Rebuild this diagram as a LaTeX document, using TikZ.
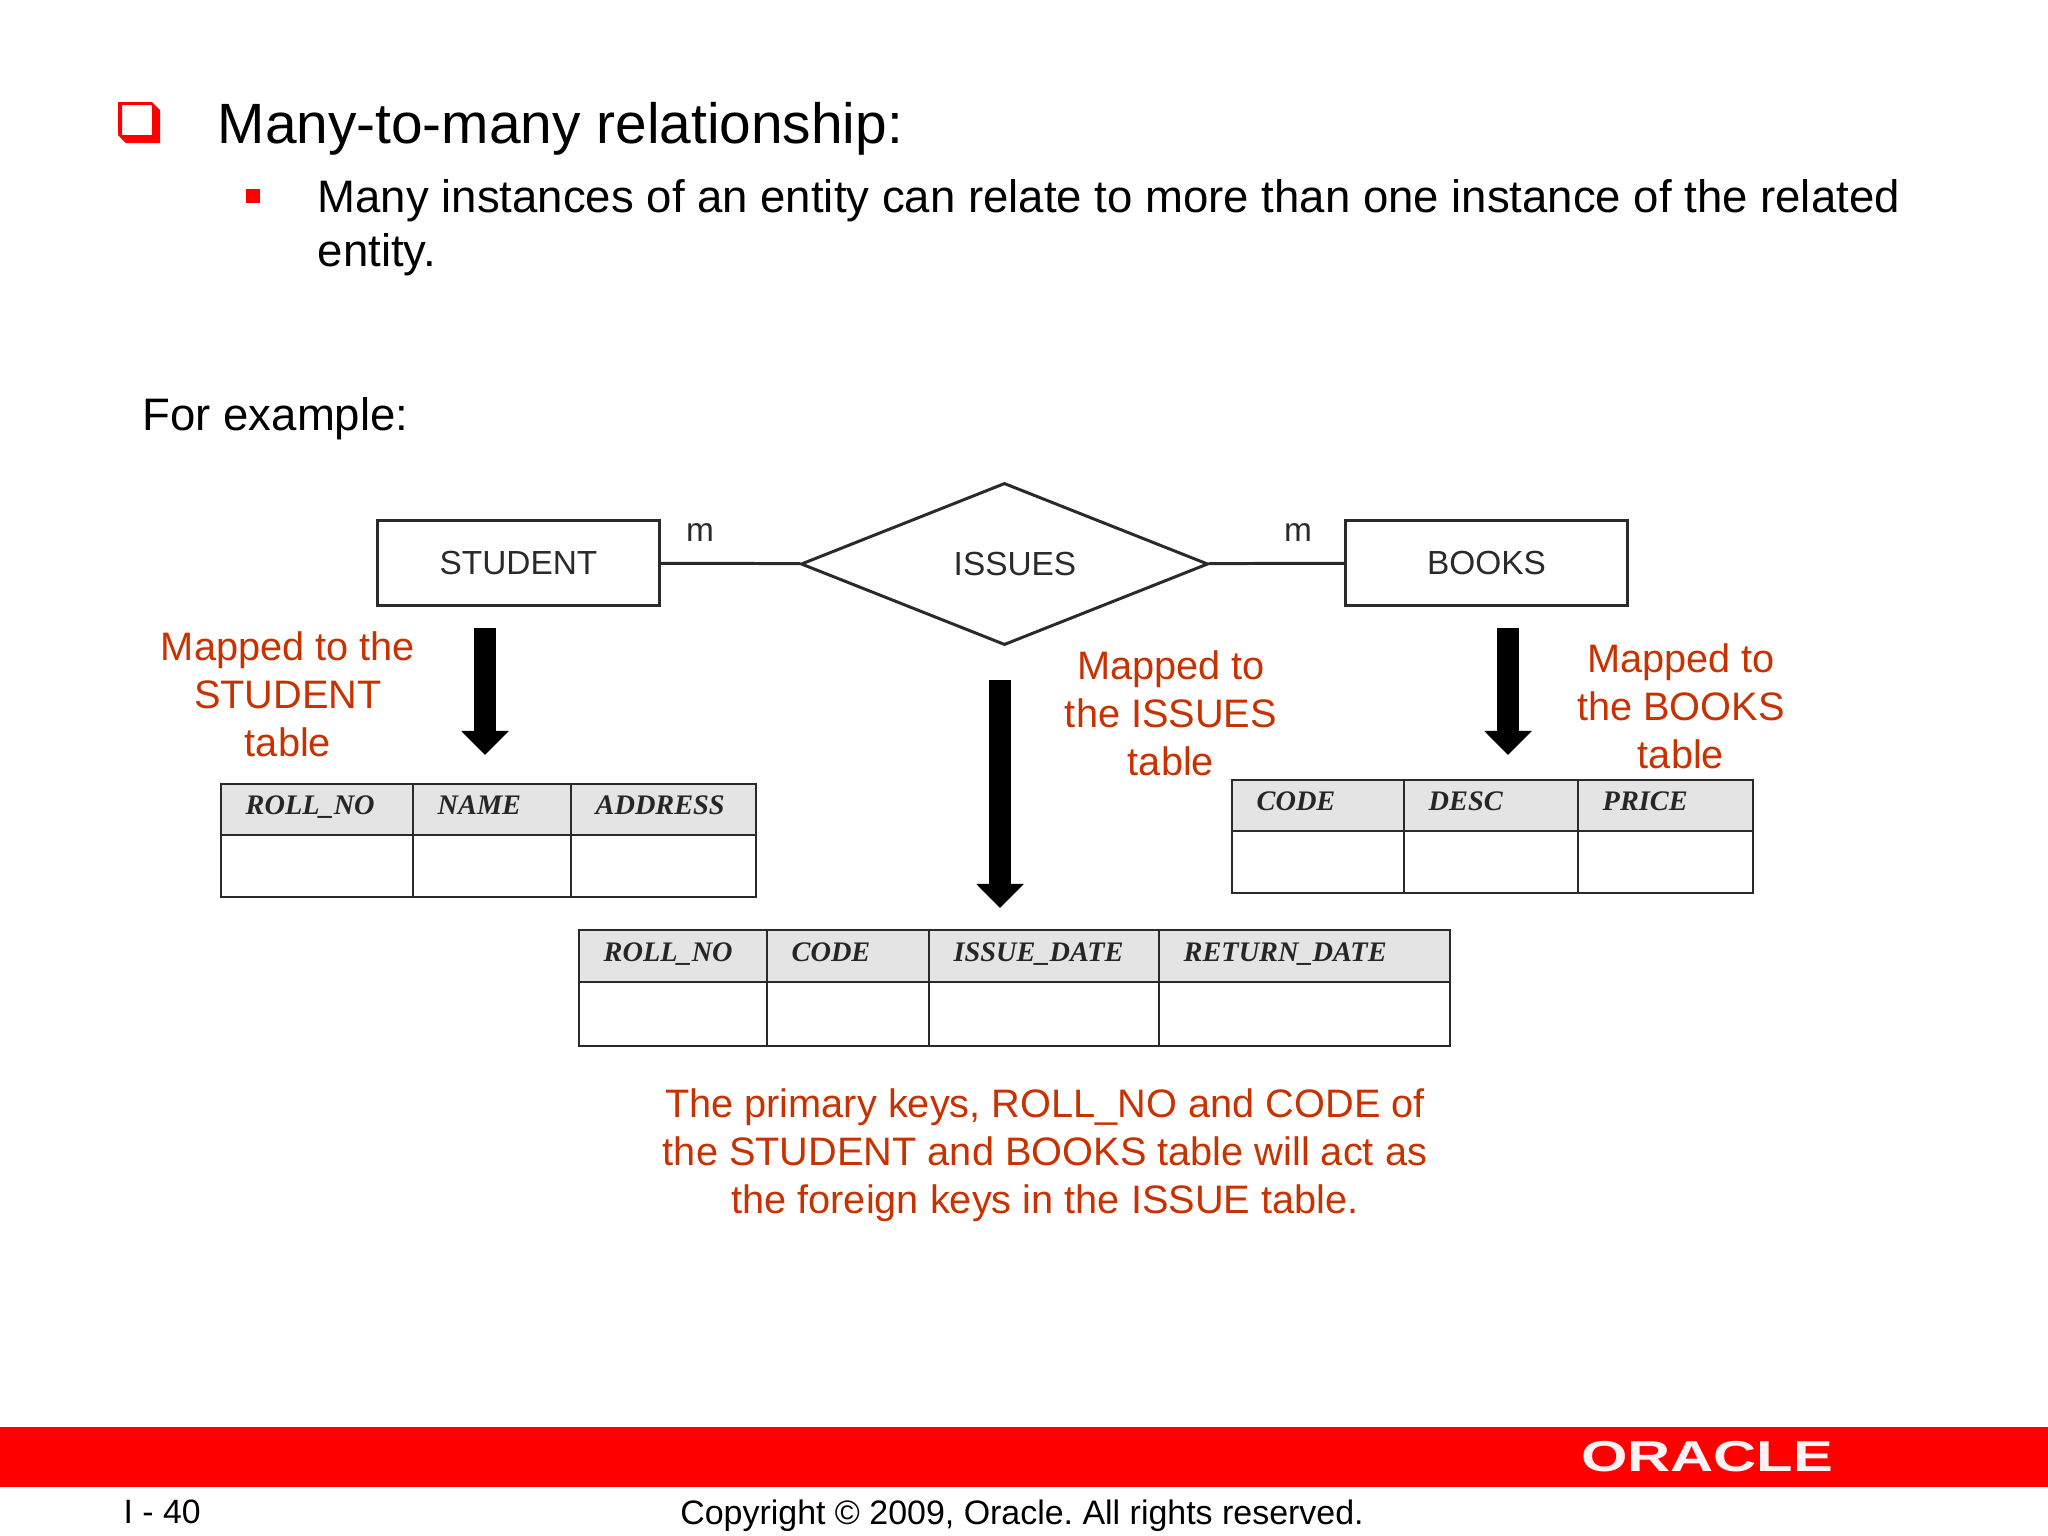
\documentclass[tikz,border=0pt]{standalone}
\usepackage{fontspec}
\setmainfont{Liberation Sans}
\newfontfamily\cellfont{Liberation Serif}
\usepackage{xcolor}
\usetikzlibrary{shapes.geometric, arrows.meta}
\definecolor{notered}{HTML}{C83200}
\definecolor{bandred}{HTML}{FF0000}
\definecolor{headgrey}{HTML}{E4E4E4}
\definecolor{lineblack}{HTML}{2A2A2A}
\tikzset{
    entitybox/.style={draw=lineblack, line width=0.85pt, minimum width=2.82cm, minimum height=0.85cm, inner sep=0pt, font=\fontsize{9.5}{12}\selectfont, text=lineblack},
    relshape/.style={draw=lineblack, line width=0.85pt, diamond, minimum width=4.07cm, minimum height=1.62cm, inner sep=0pt},
    mapnote/.style={text=notered, align=center, inner sep=0pt, font=\fontsize{11.3}{13.7}\selectfont},
    mapline/.style={-{Triangle[width=0.46cm,length=0.24cm]}, line width=0.22cm, black},
    headcell/.style={draw=lineblack, line width=0.7pt, fill=headgrey},
    bodycell/.style={draw=lineblack, line width=0.7pt},
    celltext/.style={anchor=base west, inner sep=0pt, font=\cellfont\bfseries\itshape\fontsize{8.05}{10}\selectfont, text=black!85},
    plaintext/.style={anchor=base west, inner sep=0pt}
}
\begin{document}
\begin{tikzpicture}[x=0.01cm,y=-0.01cm]
    \useasboundingbox (0,0) rectangle (2048,1536);

    % heading
    \fill[bandred, even odd rule] (118,102) -- (152,102) -- (160,110) -- (160,143) -- (126,143) -- (118,135) -- cycle
        (122,105) rectangle (152,135);
    \node[plaintext, font=\fontsize{16.16}{19}\selectfont] (headline) at (217,143) {Many-to-many relationship:};
    \fill[bandred] (246,189) rectangle (260,203);
    \node[plaintext, font=\fontsize{12.95}{15}\selectfont] (subline) at (317,212) {Many instances of an entity can relate to more than one instance of the related};
    \node[plaintext, font=\fontsize{12.95}{15}\selectfont] (subrest) at (317,266) {entity.};
    \node[plaintext, font=\fontsize{12.95}{15}\selectfont] (example) at (142,430) {For example:};

    % er diagram
    \node[entitybox] (student) at (518.5,563) {STUDENT};
    \node[relshape] (issues) at (1004.5,564) {};
    \node[font=\fontsize{9.5}{12}\selectfont, text=lineblack, inner sep=0pt] (issuestext) at (1015,564) {ISSUES};
    \node[entitybox] (books) at (1486.5,563) {BOOKS};
    \draw[lineblack, line width=0.85pt] (student) -- (issues) -- (books);
    \node[font=\fontsize{9.5}{11}\selectfont, text=lineblack, inner sep=0pt] (mleft) at (700,533) {m};
    \node[font=\fontsize{9.5}{11}\selectfont, text=lineblack, inner sep=0pt] (mright) at (1298,533) {m};

    % arrows down to the tables
    \coordinate (sfrom) at (485,628);
    \coordinate (sto) at (485,755);
    \coordinate (ifrom) at (1000,680);
    \coordinate (ito) at (1000,908);
    \coordinate (bfrom) at (1508,628);
    \coordinate (bto) at (1508,755);
    \draw[mapline] (sfrom) -- (sto);
    \draw[mapline] (ifrom) -- (ito);
    \draw[mapline] (bfrom) -- (bto);

    % notes
    \node[mapnote] (snote) at (288,694) {Mapped to the\\STUDENT\\table};
    \node[mapnote] (inote) at (1171,713) {Mapped to\\the ISSUES\\table};
    \node[mapnote] (bnote) at (1681,706) {Mapped to\\the BOOKS\\table};
    \node[mapnote] (keynote) at (1045,1155) {The primary keys, ROLL\_NO and CODE of\\the STUDENT and BOOKS table will act as\\the foreign keys in the ISSUE table.};

    % student table
    \foreach \n/\a/\b/\c in {sa/221/413/ROLL\_NO,sb/413/571/NAME,sc/571/756/ADDRESS} {
        \draw[headcell] (\a,784) rectangle (\b,835);
        \draw[bodycell] (\a,835) rectangle (\b,897);
        \node[celltext] (\n) at (\a+24,814) {\c};
    }
    % issues table
    \foreach \n/\a/\b/\c in {ia/579/767/ROLL\_NO,ib/767/929/CODE,ic/929/1159/ISSUE\_DATE,id/1159/1450/RETURN\_DATE} {
        \draw[headcell] (\a,930) rectangle (\b,982);
        \draw[bodycell] (\a,982) rectangle (\b,1046);
        \node[celltext] (\n) at (\a+24,961) {\c};
    }
    % books table
    \foreach \n/\a/\b/\c in {ba/1232/1404/CODE,bb/1404/1578/DESC,bc/1578/1753/PRICE} {
        \draw[headcell] (\a,780) rectangle (\b,831);
        \draw[bodycell] (\a,831) rectangle (\b,893);
        \node[celltext] (\n) at (\a+24,810) {\c};
    }

    % footer
    \fill[bandred] (0,1427) rectangle (2048,1487);
    \node[text=white!95!red, inner sep=0pt, font=\bfseries\fontsize{12.3}{14}\selectfont, xscale=1.38] (logo) at (1707,1457) {ORACLE};
    \node[plaintext, font=\fontsize{9.6}{12}\selectfont] (pageno) at (123,1523) {I - 40};
    \node[anchor=base, inner sep=0pt, font=\frenchspacing\fontsize{9.65}{12}\selectfont] (copyright) at (1022,1524) {Copyright © 2009, Oracle. All rights reserved.};
\end{tikzpicture}
\end{document}
